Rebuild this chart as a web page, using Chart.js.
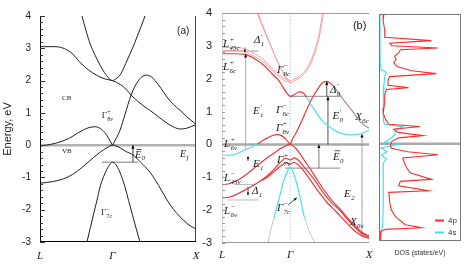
<!DOCTYPE html>
<html><head><meta charset="utf-8">
<script src="https://cdn.jsdelivr.net/npm/chart.js@4.4.1/dist/chart.umd.min.js"></script>
<style>
html,body{margin:0;padding:0;background:#fff;overflow:hidden;}
#wrap{position:relative;width:469px;height:273px;}
#wrap canvas{position:absolute;top:0;}
</style></head><body>
<div id="wrap">
<canvas id="ca" width="200" height="273" style="left:0px"></canvas>
<canvas id="cb" width="178" height="273" style="left:198px"></canvas>
<canvas id="cd" width="93" height="273" style="left:376px"></canvas>
</div>
<script>
// ---------- axes ----------
const kTicks = [0, 0.866, 1.866];
const kNames = ['L', 'Γ', 'X'];
const energyTicks = [-3, -2, -1, 0, 1, 2, 3, 4];

// ---------- panel (a): [k, E] ----------
const aCB = [[0,3.05],[0.15,3.05],[0.26,3.02],[0.38,2.85],[0.48,2.56],[0.58,2.33],[0.68,2.16],[0.78,2.05],[0.866,2.0],[0.96,1.88],[1.03,1.73],[1.09,1.55],[1.17,1.36],[1.256,1.18],[1.32,1.07],[1.42,0.87],[1.52,0.68],[1.6,0.56],[1.675,0.5],[1.75,0.52],[1.866,0.64]];
const aPar = [[0.502,4],[0.55,3.55],[0.598,3.15],[0.66,2.78],[0.718,2.48],[0.77,2.25],[0.82,2.08],[0.866,2.0],[0.91,2.06],[0.957,2.17],[1.0,2.38],[1.053,2.69],[1.11,3.02],[1.16,3.35],[1.21,3.68],[1.256,4]];
const aG8 = [[0.866,0],[0.91,0.2],[0.957,0.46],[1.017,0.95],[1.089,1.55],[1.172,1.98],[1.268,2.17],[1.33,2.12],[1.376,2.0],[1.45,1.75],[1.519,1.49],[1.6,1.25],[1.675,1.08],[1.77,0.85],[1.866,0.64]];
const aVB1 = [[0,-0.03],[0.12,0.02],[0.24,0.1],[0.34,0.2],[0.45,0.37],[0.56,0.52],[0.66,0.57],[0.74,0.48],[0.8,0.3],[0.866,0]];
const aVB2 = [[0,-1.18],[0.15,-1.13],[0.323,-1.0],[0.45,-0.8],[0.562,-0.56],[0.718,-0.22],[0.8,-0.08],[0.866,0],[0.957,-0.08],[1.03,-0.2],[1.112,-0.3],[1.2,-0.52],[1.316,-0.84],[1.42,-1.25],[1.519,-1.7],[1.6,-2.0],[1.675,-2.22],[1.77,-2.45],[1.866,-2.6]];
const aG7c = [[0.562,-3],[0.6,-2.58],[0.64,-2.15],[0.68,-1.72],[0.718,-1.3],[0.76,-0.98],[0.8,-0.75],[0.84,-0.58],[0.866,-0.53],[0.9,-0.58],[0.94,-0.75],[0.98,-1.0],[1.017,-1.3],[1.06,-1.72],[1.105,-2.15],[1.15,-2.58],[1.196,-3]];
const aFermi = [[0,0],[1.866,0]];
const aE0Line = [[0.742,-0.53],[1.172,-0.53]];
const aE0Arrow = [[1.112,-0.53],[1.112,0]];

// ---------- panel (b): [k, E] ----------
const bPink1 = [[0,2.95],[0.2,2.95],[0.3,2.9],[0.4,2.78],[0.5,2.63],[0.6,2.42],[0.7,2.18],[0.78,2.02],[0.866,1.94]];
const bPink2 = [[0,2.86],[0.2,2.86],[0.3,2.81],[0.4,2.69],[0.5,2.55],[0.6,2.35],[0.7,2.12],[0.78,1.96],[0.866,1.88]];
const bPar1 = [[0.445,4],[0.52,3.55],[0.6,3.1],[0.67,2.7],[0.736,2.37],[0.8,2.1],[0.866,1.94],[0.93,2.0],[1.0,2.1],[1.077,2.32],[1.155,2.72],[1.2,3.05],[1.24,3.45],[1.275,4]];
const bPar2 = [[0.458,4],[0.535,3.52],[0.612,3.06],[0.68,2.65],[0.745,2.32],[0.805,2.05],[0.866,1.88],[0.93,1.95],[1.0,2.05],[1.085,2.28],[1.165,2.68],[1.21,3.02],[1.25,3.45],[1.288,4]];
const bL6cRed = [[0,2.76],[0.15,2.76],[0.29,2.74],[0.42,2.6],[0.546,2.38],[0.647,2.12],[0.72,1.95],[0.78,1.72],[0.83,1.54],[0.866,1.46],[0.92,1.52],[0.98,1.6],[1.03,1.57],[1.07,1.45]];
const bL6cCyan = [[1.07,1.45],[1.117,1.26],[1.2,0.96],[1.28,0.7],[1.37,0.52],[1.46,0.39],[1.54,0.32],[1.624,0.29],[1.7,0.3],[1.75,0.32],[1.81,0.37],[1.866,0.44]];
const bRise = [[0.866,0],[0.9,0.18],[0.95,0.4],[1.028,0.8],[1.091,1.15],[1.155,1.45],[1.218,1.7],[1.27,1.86],[1.32,1.92],[1.37,1.88],[1.42,1.76]];
const bX6c = [[1.42,1.76],[1.5,1.5],[1.56,1.3],[1.624,1.11],[1.69,0.9],[1.75,0.7],[1.81,0.58],[1.866,0.5]];
const bL6vCyan = [[0,-0.33],[0.08,-0.33],[0.16,-0.3],[0.29,-0.17],[0.38,-0.07],[0.45,0.02]];
const bL6vRed = [[0.45,0.02],[0.52,0.12],[0.58,0.2],[0.64,0.27],[0.7,0.3],[0.76,0.26],[0.81,0.16],[0.866,0]];
const bHH = [[0,-1.23],[0.1,-1.19],[0.2,-1.09],[0.3,-0.93],[0.38,-0.78],[0.48,-0.58],[0.58,-0.4],[0.68,-0.23],[0.77,-0.09],[0.866,0],[0.92,-0.08],[0.98,-0.25],[1.05,-0.5],[1.13,-0.78],[1.22,-1.12],[1.32,-1.47],[1.41,-1.75],[1.5,-1.97],[1.6,-2.25],[1.7,-2.5],[1.78,-2.68],[1.866,-2.78]];
const bSO1 = [[0,-1.63],[0.1,-1.6],[0.2,-1.5],[0.29,-1.39],[0.38,-1.27],[0.48,-1.12],[0.56,-0.98],[0.63,-0.83],[0.7,-0.65],[0.76,-0.5],[0.81,-0.42],[0.866,-0.47],[0.92,-0.41],[0.97,-0.48],[1.03,-0.65],[1.08,-0.8],[1.18,-1.1],[1.28,-1.45],[1.38,-1.75],[1.5,-2.02],[1.6,-2.3],[1.7,-2.55],[1.78,-2.72],[1.866,-2.82]];
const bSO2 = [[0.5,-1.1],[0.58,-0.99],[0.65,-0.85],[0.72,-0.7],[0.78,-0.6],[0.82,-0.55],[0.866,-0.6],[0.91,-0.55],[0.96,-0.6],[1.0,-0.7],[1.03,-0.78],[1.12,-1.08],[1.22,-1.42],[1.33,-1.76],[1.45,-2.05],[1.56,-2.33],[1.66,-2.58],[1.76,-2.76],[1.866,-2.86]];
const bG7cCyan = [[0.66,-2.25],[0.68,-2.05],[0.72,-1.7],[0.761,-1.3],[0.79,-1.05],[0.83,-0.82],[0.866,-0.69],[0.9,-0.82],[0.95,-1.2],[0.99,-1.6],[1.03,-2.05],[1.05,-2.25]];
const bG7cGrayL = [[0.584,-3],[0.62,-2.6],[0.66,-2.25]];
const bG7cGrayR = [[1.05,-2.25],[1.11,-2.65],[1.18,-3]];
const bGammaLine = [[0.866,-3],[0.866,4]];
const bFermi = [[0,0],[1.866,0]];
const bG6cLine = [[0.866,1.46],[1.5,1.46]];
const bE0Line = [[0.8,-0.72],[1.5,-0.72]];
const bL45cLine = [[0,2.84],[0.46,2.84]];
const bL45vLine = [[0.15,-1.22],[0.4,-1.22]];
const bL6vLine = [[0.08,-1.69],[0.46,-1.69]];
const bE1pArrow = [[0.3,-0.17],[0.3,2.76]];
const bD1pArrow = [[0.29,2.95],[0.29,2.8]];
const bD0pArrow = [[1.33,1.46],[1.33,1.92]];
const bE0pArrow = [[1.345,0],[1.345,1.46]];
const bE0Arrow = [[1.23,-0.72],[1.23,0]];
const bE2Arrow = [[1.777,-2.8],[1.777,0.32]];
const bD1Arrow = [[0.33,-1.28],[0.33,-1.55]];
const bE1Arrow = [[0.33,-0.5],[0.33,-0.36]];
const bG7cArrow = [[0.84,-1.84],[0.95,-1.62]];

// ---------- DOS panel: [DOS, E] ----------
const dos4p = [[0.6,4.0],[0.5,3.8],[0.7,3.5],[0.7,3.28],[6.4,3.18],[1.3,3.1],[1.6,3.02],[7.2,2.95],[2.6,2.9],[2.4,2.8],[1.9,2.7],[2.1,2.6],[1.8,2.5],[2.2,2.38],[4.0,2.25],[7.0,2.16],[1.3,2.07],[1.1,1.95],[1.1,1.8],[3.6,1.73],[0.9,1.67],[0.7,1.5],[0.7,1.3],[0.6,1.1],[0.5,0.95],[0.8,0.75],[1.2,0.6],[5.0,0.53],[1.8,0.45],[2.3,0.35],[5.4,0.25],[2.4,0.18],[1.6,0.08],[1.4,-0.03],[1.5,-0.14],[3.5,-0.25],[7.2,-0.34],[2.9,-0.44],[3.1,-0.6],[3.4,-0.75],[3.8,-0.9],[6.4,-1.1],[2.6,-1.16],[2.4,-1.3],[6.0,-1.45],[1.2,-1.5],[1.3,-1.8],[1.5,-2.04],[2.0,-2.25],[3.2,-2.5],[5.2,-2.59],[0.8,-2.64],[0.2,-2.7],[0.2,-3.0]];
const dos4s = [[0.12,4],[0.12,3.0],[0.15,2.4],[0.3,2.28],[0.9,2.2],[0.7,2.1],[0.6,1.8],[0.55,1.4],[0.5,1.0],[0.55,0.7],[0.7,0.6],[2.9,0.52],[1.9,0.4],[2.0,0.3],[1.6,0.2],[1.2,0.12],[0.7,0.05],[2.3,-0.03],[0.2,-0.13],[1.0,-0.24],[0.3,-0.35],[0.9,-0.47],[0.5,-0.6],[0.55,-1.0],[0.5,-1.5],[0.5,-2.0],[0.45,-2.5],[0.3,-2.7],[0.2,-3.0]];
const dosFermi = [[0,0],[10,0]];
const dosNames = ['4p', '4s'];

// ---------- text labels ----------
const aLabels = [
  {k:1.64, E:3.56, t:'(a)', sans:true, upright:true, size:10},
  {k:0.263, E:1.46, t:'CB', upright:true, size:7},
  {k:0.263, E:-0.16, t:'VB', upright:true, size:7},
  {k:0.738, E:0.93, t:'Γ', sub:'8v', sup:'+', upright:true, size:9},
  {k:1.136, E:-0.28, t:'E', sub:'0', bar:true, size:10},
  {k:1.675, E:-0.25, t:'E', sub:'f', size:10},
  {k:0.73, E:-2.07, t:'Γ', sub:'7c', sup:'−', upright:true, size:9}
];
const bLabels = [
  {k:1.662, E:3.62, t:'(b)', sans:true, upright:true, size:11},
  {k:0.013, E:3.09, t:'L', sup:'+', sub:'45c', size:11},
  {k:0.406, E:3.2, t:'Δ', sup:'′', sub:'1', size:11},
  {k:0.013, E:2.39, t:'L', sup:'+', sub:'6c', size:11},
  {k:0.698, E:2.29, t:'Γ', sup:'−', sub:'8c', size:11},
  {k:0.393, E:1.05, t:'E', sup:'′', sub:'1', size:11},
  {k:0.685, E:1.08, t:'Γ', sup:'−', sub:'6c', size:11},
  {k:0.685, E:0.53, t:'Γ', sup:'+', sub:'8v', size:11},
  {k:1.37, E:1.69, t:'Δ', sup:'′', sub:'0', size:11},
  {k:1.402, E:0.9, t:'E', sup:'′', sub:'0', size:11},
  {k:1.69, E:0.87, t:'X', sub:'6c', size:11},
  {k:0.025, E:0.05, t:'L', sup:'+', sub:'6v', size:11},
  {k:0.393, E:-0.56, t:'E', sub:'1', size:11},
  {k:0.698, E:-0.44, t:'Γ', sup:'+', sub:'7v', size:11},
  {k:1.41, E:-0.35, t:'E', sub:'0', bar:true, size:11},
  {k:0.025, E:-0.99, t:'L', sup:'−', sub:'45v', size:11},
  {k:0.38, E:-1.39, t:'Δ', sub:'1', size:11},
  {k:0.025, E:-2.0, t:'L', sup:'−', sub:'6v', size:11},
  {k:0.698, E:-1.9, t:'Γ', sup:'−', sub:'7c', size:11},
  {k:1.55, E:-1.48, t:'E', sub:'2', size:11},
  {k:1.624, E:-2.33, t:'X', sub:'6v', size:11}
];

// ---------- helpers ----------
Chart.defaults.font.family = 'Liberation Sans';
Chart.defaults.color = '#222';
const P = a => a.map(([x, y]) => ({x, y}));
function ln(data, color, width, extra) {
  return Object.assign({data: P(data), borderColor: color, backgroundColor: color, borderWidth: width,
    showLine: true, pointRadius: 0, pointHoverRadius: 0, fill: false, cubicInterpolationMode: 'monotone'}, extra || {});
}
function drawLabel(ctx, x, y, it) {
  const size = it.size || 10;
  const fam = it.sans ? '"Liberation Sans"' : '"Liberation Serif"';
  const st = it.upright ? '' : 'italic ';
  ctx.font = st + size + 'px ' + fam;
  ctx.fillStyle = it.color || '#222';
  ctx.textAlign = 'left'; ctx.textBaseline = 'alphabetic';
  const base = y + size * 0.35;
  ctx.fillText(it.t, x, base);
  const w = ctx.measureText(it.t).width;
  if (it.bar) {
    ctx.strokeStyle = it.color || '#222'; ctx.lineWidth = 0.8;
    ctx.beginPath(); ctx.moveTo(x + 1.5, base - size * 0.82); ctx.lineTo(x + w + 0.5, base - size * 0.82); ctx.stroke();
  }
  const s2 = Math.round(size * 0.66);
  ctx.font = st + s2 + 'px ' + fam;
  if (it.sup) ctx.fillText(it.sup, x + w + 0.3, base - size * 0.42);
  if (it.sub) ctx.fillText(it.sub, x + w + 0.3, base + size * 0.28);
}
function decor(cfg) {
  return {
    id: 'decor',
    afterDatasetsDraw(chart) {
      const ctx = chart.ctx, a = chart.chartArea, ys = chart.scales.y;
      ctx.save();
      const seg = (c, x1, y1, x2, y2, w) => { if (!c) return; ctx.strokeStyle = c; ctx.lineWidth = w || 1; ctx.beginPath(); ctx.moveTo(x1, y1); ctx.lineTo(x2, y2); ctx.stroke(); };
      const f = cfg.frame || {};
      seg(f.left, a.left + 0.5, a.top, a.left + 0.5, a.bottom);
      seg(f.right, a.right - 0.5, a.top, a.right - 0.5, a.bottom);
      seg(f.top, a.left, a.top + 0.5, a.right, a.top + 0.5);
      seg(f.bottom, a.left, a.bottom - 0.5, a.right, a.bottom - 0.5);
      if (cfg.ticks) {
        const t = cfg.ticks;
        const n = Math.round((ys.max - ys.min) / t.step);
        for (let i = 0; i <= n; i++) {
          const v = ys.min + i * t.step;
          const y = Math.round(ys.getPixelForValue(v)) + 0.5;
          const major = Math.abs(v - Math.round(v)) < 1e-6;
          seg(t.color, a.left, y, a.left + (major ? t.major : t.minor), y);
        }
      }
      chart.data.datasets.forEach((ds, i) => {
        if (!ds.arrow) return;
        const pts = chart.getDatasetMeta(i).data;
        const p = pts[pts.length - 1], q = pts[pts.length - 2];
        const ang = Math.atan2(p.y - q.y, p.x - q.x);
        const L = ds.arrowSize || 4;
        ctx.fillStyle = ds.arrowColor || '#000';
        ctx.beginPath();
        ctx.moveTo(p.x, p.y);
        ctx.lineTo(p.x - L * Math.cos(ang - 0.4), p.y - L * Math.sin(ang - 0.4));
        ctx.lineTo(p.x - L * Math.cos(ang + 0.4), p.y - L * Math.sin(ang + 0.4));
        ctx.closePath(); ctx.fill();
      });
      ctx.restore();
    },
    afterDraw(chart) {
      const ctx = chart.ctx, xs = chart.scales.x, ys = chart.scales.y;
      ctx.save();
      (cfg.labels || []).forEach(it => drawLabel(ctx, xs.getPixelForValue(it.k), ys.getPixelForValue(it.E), it));
      if (cfg.after) cfg.after(chart, ctx);
      ctx.restore();
    }
  };
}
function kAxis(size, pad) {
  return {
    type: 'linear', min: 0, max: 1.866,
    afterBuildTicks: s => { s.ticks = kTicks.map(v => ({value: v})); },
    afterFit: s => { s.height = 273 - (pad.bottomAt); s.paddingLeft = 0; s.paddingRight = 0; },
    ticks: {autoSkip: false, maxRotation: 0, padding: pad.tick, color: '#222',
      font: {family: 'Liberation Serif', style: 'italic', size: size},
      callback: (v, i) => kNames[i]},
    grid: {display: false, drawTicks: false}, border: {display: false}
  };
}
function eAxis(width, size, pad, title) {
  return {
    type: 'linear', min: -3, max: 4,
    afterBuildTicks: s => { s.ticks = energyTicks.map(v => ({value: v})); },
    afterFit: s => { s.width = width; s.paddingTop = 0; s.paddingBottom = 0; },
    ticks: {padding: pad, color: '#222', font: {family: 'Liberation Sans', size: size}},
    grid: {display: false, drawTicks: false}, border: {display: false},
    title: title ? {display: true, text: title, color: '#222', font: {family: 'Liberation Sans', size: 11}, padding: {top: 1, bottom: 0}} : {display: false}
  };
}
const common = {responsive: false, animation: false, devicePixelRatio: 1,
  events: [], plugins: {legend: {display: false}, tooltip: {enabled: false}}};

// ---------- panel (a) ----------
const K = '#1e1e1e';
new Chart(document.getElementById('ca'), {
  type: 'scatter',
  data: {datasets: [
    ln(aCB, K, 1), ln(aPar, K, 1), ln(aG8, K, 1), ln(aVB1, K, 1), ln(aVB2, K, 1), ln(aG7c, K, 1),
    ln(aE0Arrow, '#000', 0.8, {arrow: true, arrowSize: 4}),
    ln(aE0Line, '#a8a8a8', 1.5),
    ln(aFermi, '#b2b2b2', 2.5)
  ]},
  options: Object.assign({}, common, {
    layout: {autoPadding: false, padding: {left: 0, right: 4, top: 16, bottom: 0}},
    scales: {x: kAxis(11, {bottomAt: 242, tick: 8}), y: eAxis(40, 10, 9, 'Energy, eV')}
  }),
  plugins: [decor({frame: {left: '#000', bottom: '#000', right: '#444'},
    ticks: {step: 0.2, major: 5, minor: 3, color: '#333'}, labels: aLabels})]
});

// ---------- panel (b) ----------
const R = '#e8393c', PK = '#f6a3a3', C = '#45e4ee', G = '#a0a0a0';
new Chart(document.getElementById('cb'), {
  type: 'scatter',
  data: {datasets: [
    ln(bL6cRed, R, 1.2), ln(bL6cCyan, C, 1.2), ln(bRise, R, 1.2), ln(bX6c, '#a58c95', 1.2),
    ln(bL6vCyan, C, 1.2), ln(bL6vRed, R, 1.2),
    ln(bHH, R, 1.2), ln(bSO1, R, 1.2), ln(bSO2, R, 1.2),
    ln(bG7cCyan, C, 1.2), ln(bG7cGrayL, '#c4c4c4', 1), ln(bG7cGrayR, '#c4c4c4', 1),
    ln(bPink1, PK, 1), ln(bPink2, PK, 1), ln(bPar1, PK, 1), ln(bPar2, PK, 1),
    ln(bD0pArrow, '#222', 0.8, {arrow: true}), ln(bE0pArrow, '#222', 0.8, {arrow: true}),
    ln(bE0Arrow, '#555', 0.8, {arrow: true}), ln(bE2Arrow, '#999', 0.9, {arrow: true}),
    ln(bE1pArrow, '#aaa', 1, {arrow: true}), ln(bD1pArrow, '#222', 0.8, {arrow: true, arrowSize: 3}),
    ln(bD1Arrow, '#222', 0.8, {arrow: true, arrowSize: 3}), ln(bE1Arrow, '#222', 0.8, {arrow: true, arrowSize: 3}),
    ln(bG7cArrow, '#222', 0.8, {arrow: true, arrowSize: 3.5}),
    ln(bG6cLine, G, 1.3), ln(bE0Line, G, 1.3), ln(bL45cLine, G, 1), ln(bL45vLine, '#bbb', 1), ln(bL6vLine, '#bbb', 1),
    ln(bGammaLine, '#a9d2ee', 1, {borderDash: [1.5, 1.5]}),
    ln(bFermi, '#a9a9a9', 2.5)
  ]},
  options: Object.assign({}, common, {
    layout: {autoPadding: false, padding: {left: 0, right: 7, top: 13, bottom: 0}},
    scales: {x: kAxis(11, {bottomAt: 243, tick: 6}), y: eAxis(24, 11, 10, null)}
  }),
  plugins: [decor({frame: {top: '#9a9a9a', bottom: '#9a9a9a', left: '#d0d0d0'},
    ticks: {step: 0.2, major: 3, minor: 3, color: '#999'}, labels: bLabels})]
});

// ---------- DOS panel ----------
new Chart(document.getElementById('cd'), {
  type: 'scatter',
  data: {datasets: [
    ln(dos4p, '#ff2b2b', 1.1, {cubicInterpolationMode: 'default', tension: 0, label: dosNames[0]}),
    ln(dos4s, '#36e3ee', 1.1, {cubicInterpolationMode: 'default', tension: 0, label: dosNames[1]}),
    ln(dosFermi, '#a9a9a9', 2.5)
  ]},
  options: Object.assign({}, common, {
    layout: {autoPadding: false, padding: {left: 3, right: 8, top: 14, bottom: 0}},
    scales: {
      x: {type: 'linear', min: 0, max: 10,
        afterFit: s => { s.height = 32; s.paddingLeft = 0; s.paddingRight = 0; },
        ticks: {display: false}, grid: {display: false, drawTicks: false}, border: {display: false},
        title: {display: true, text: 'DOS (states/eV)', color: '#333', font: {family: 'Liberation Sans', size: 7}, padding: {top: 0, bottom: 16}}},
      y: {type: 'linear', min: -3, max: 4, display: false}
    }
  }),
  plugins: [decor({frame: {left: '#777', right: '#777', top: '#777', bottom: '#777'},
    after: (chart, ctx) => {
      const a = chart.chartArea;
      const items = [{c: '#ff2b2b', t: dosNames[0], y: a.bottom - 20.5}, {c: '#36e3ee', t: dosNames[1], y: a.bottom - 8.5}];
      items.forEach(it => {
        ctx.strokeStyle = it.c; ctx.lineWidth = 2;
        ctx.beginPath(); ctx.moveTo(a.right - 26, it.y); ctx.lineTo(a.right - 17, it.y); ctx.stroke();
        ctx.fillStyle = '#333'; ctx.font = '8px "Liberation Sans"'; ctx.textBaseline = 'middle'; ctx.textAlign = 'left';
        ctx.fillText(it.t, a.right - 13, it.y);
      });
    }})]
});
</script>
</body></html>
